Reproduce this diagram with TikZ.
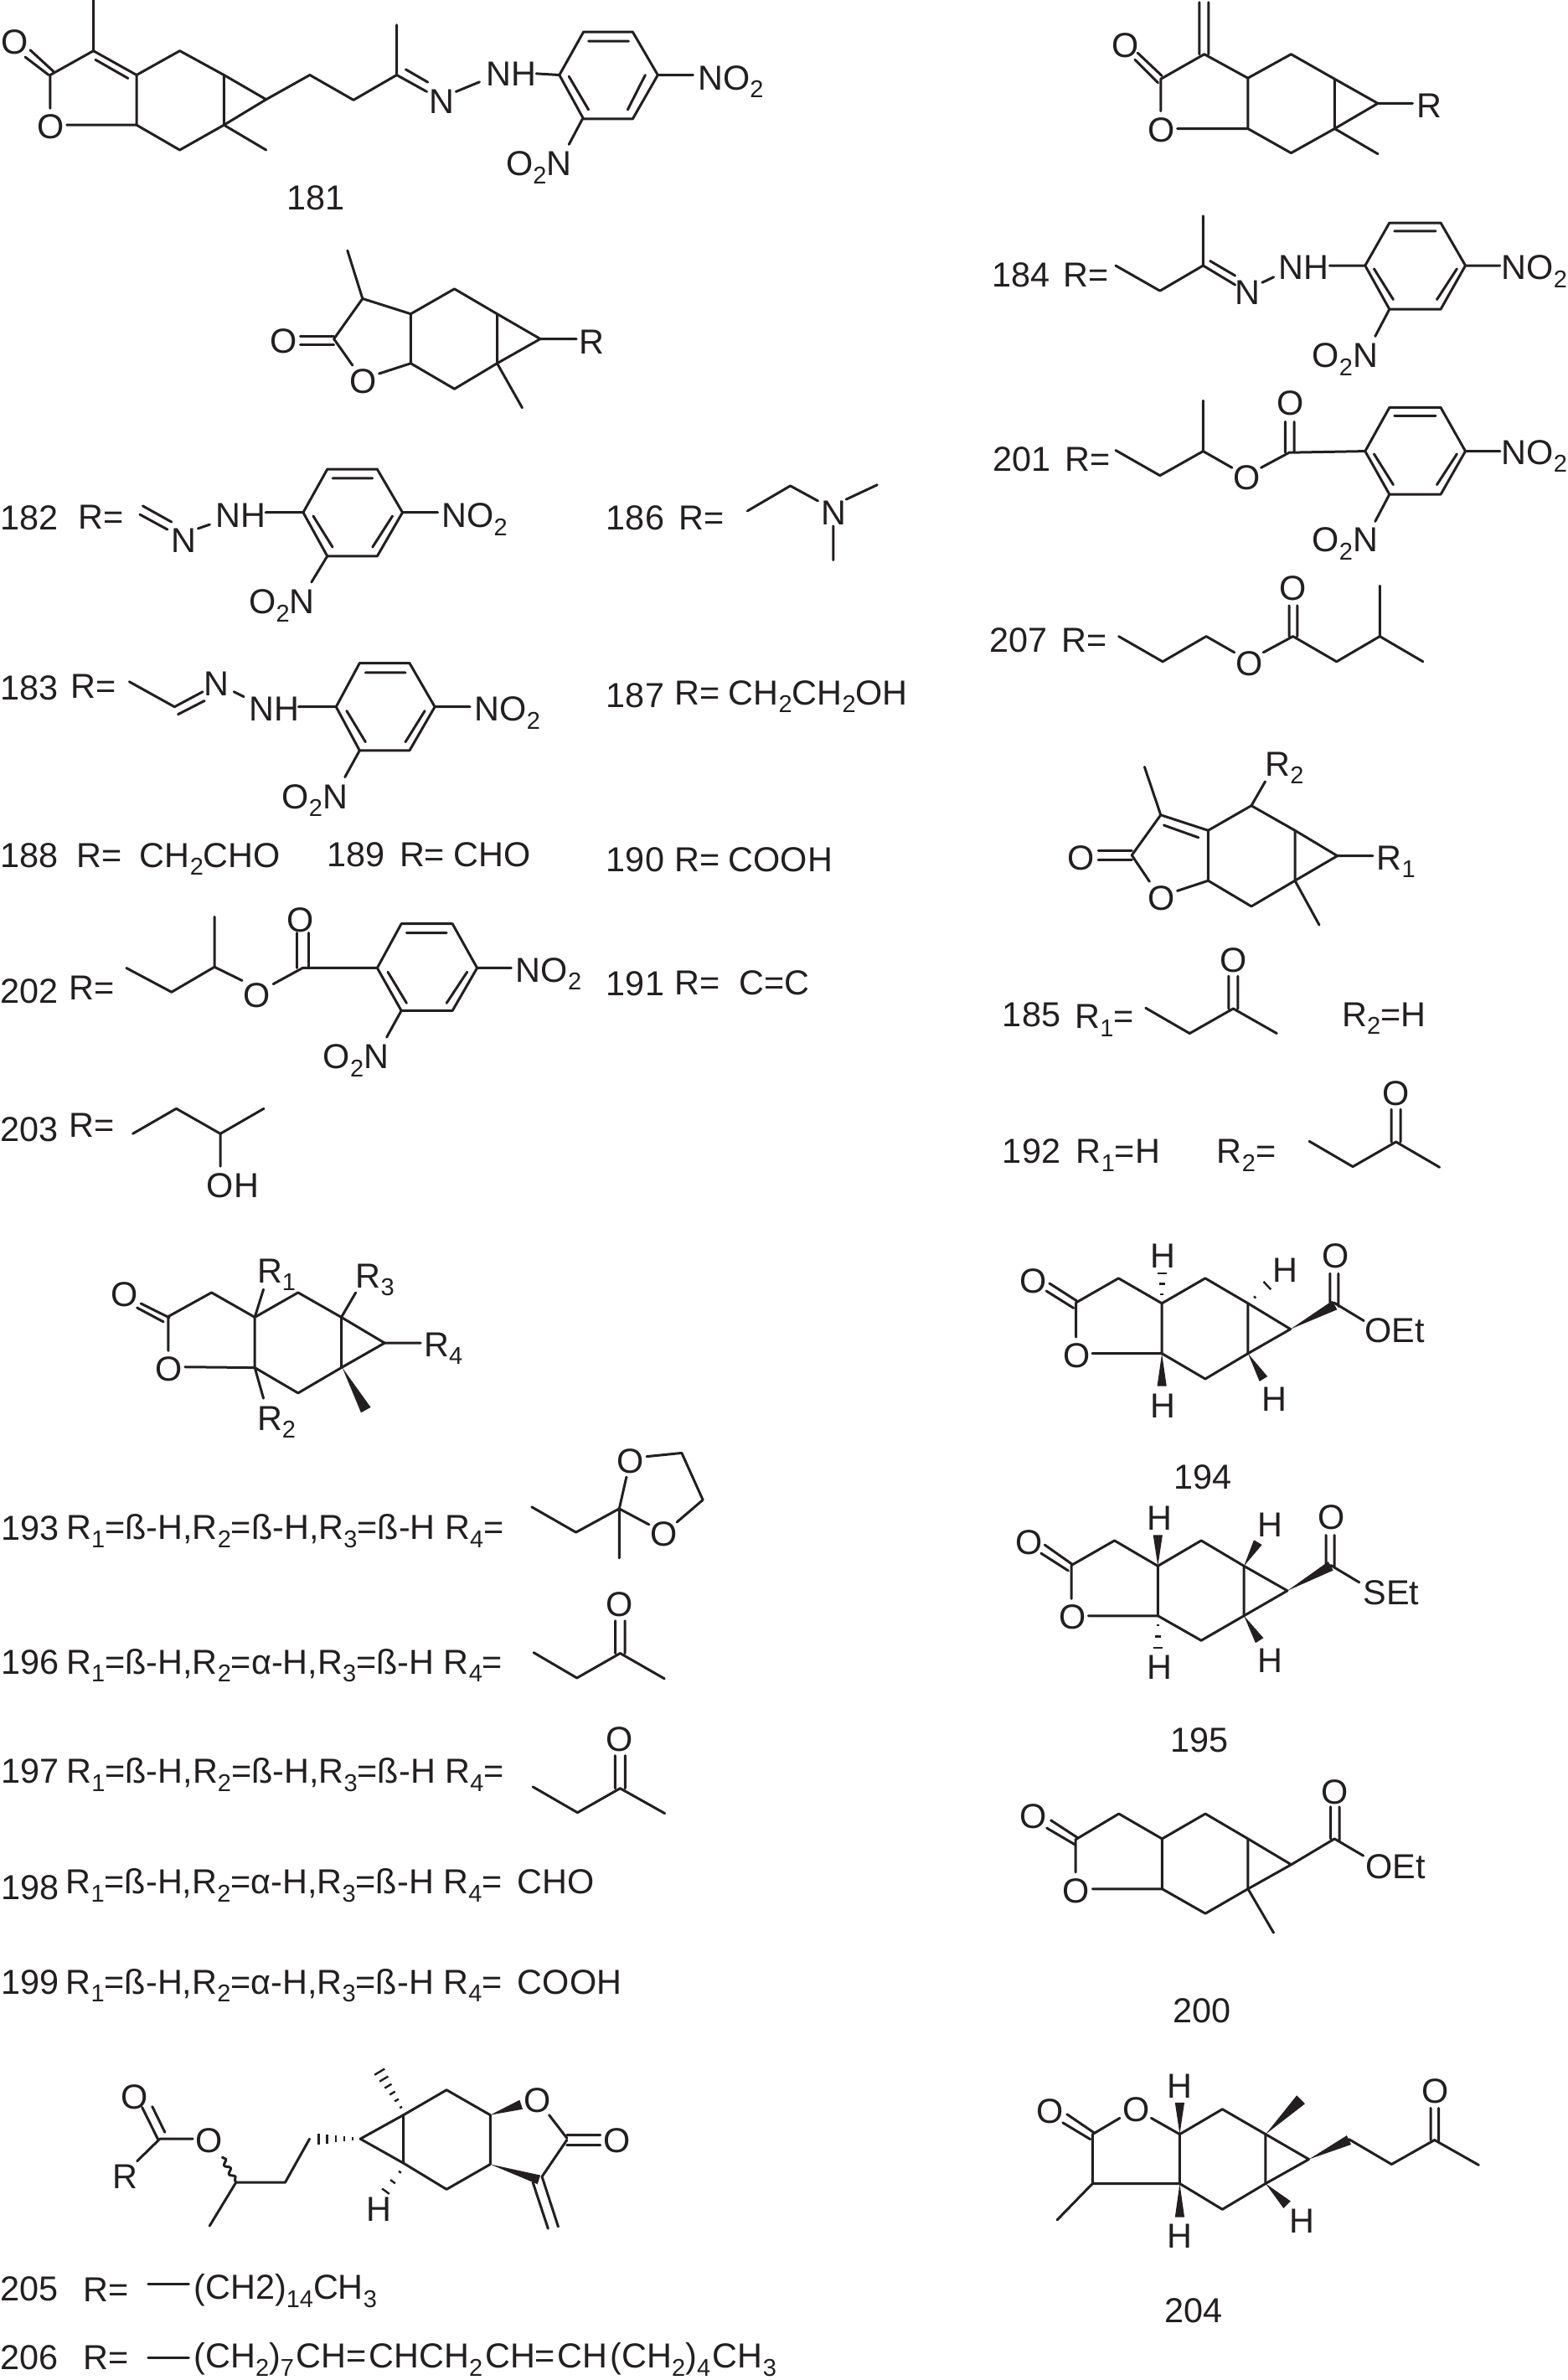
\documentclass[tikz,border=0pt]{standalone}
\usepackage{fontspec}
\setmainfont{Liberation Sans}
\usetikzlibrary{calc,decorations.pathmorphing}
\definecolor{ink}{HTML}{231F20}
\newcounter{tc}
\newcommand\sbs[1]{\raisebox{-0.23em}{\fontsize{14.5}{14.5}\selectfont #1}}
\newcommand\lab[3]{\stepcounter{tc}\node[lbl] (t\thetc) at (#1,#2) {#3};}
\newcommand\wdg[3]{\fill[ink] (#1) -- ($(#2)!#3!90:(#1)$) -- ($(#2)!#3!-90:(#1)$) -- cycle;}
\newcommand\hsh[3]{\coordinate (hz) at ($(#1)!2!(#2)$);\foreach \tq/\wq in {#3}{\draw[hb] ($(#1)!\tq!(#2)!\wq!90:(hz)$) -- ($(#1)!\tq!(#2)!\wq!-90:(hz)$);}}
\tikzset{
 zm/.style n args={4}{shift={(#1*0.5pt,-#2*0.5pt)},x={#3/3136*1pt},y={-#4/3136*1pt}},
 lbl/.style={anchor=base west,inner sep=0pt,outer sep=0pt,yshift=-0.8pt,text=ink,font=\fontsize{20.7}{24}\selectfont},
 b/.style={draw=ink,line width=1.5pt,line cap=round,line join=round},
 hb/.style={draw=ink,line width=1.2pt}
}
\begin{document}
\begin{tikzpicture}
\useasboundingbox (0pt,0pt) rectangle (936pt,-1420.5pt);
% ---------- zoom 1
\begin{scope}[zm={0}{0}{940}{520}]
\draw[b] (186,0)--(186,183)--(100,270)--(100,390);
\draw[b] (60,180)--(107,258) (50,205)--(97,270);
\draw[b] (133,450)--(272,450)--(272,270)--(186,183) (190,215)--(255,282);
\draw[b] (272,270)--(358,183)--(446,270)--(530,358)--(446,450)--(358,540)--(272,450);
\draw[b] (446,270)--(446,450)--(530,540);
\draw[b] (530,358)--(617,270)--(704,360)--(790,270)--(790,90);
\draw[b] (790,270)--(850,330) (808,250)--(852,296) (908,330)--(955,295) (1068,265)--(1114,270);
\draw[b] (1114,270)--(1162,115)--(1260,115)--(1310,270)--(1260,428)--(1162,428)--cycle;
\draw[b] (1172,148)--(1252,148) (1285,270)--(1250,395) (1133,275)--(1172,395);
\draw[b] (1310,270)--(1380,270) (1160,428)--(1133,520);
\lab{3}{190}{O}\lab{74}{495}{O}
\lab{855}{405}{N}\lab{968}{305}{NH}\lab{1390}{318}{NO\sbs{2}}\lab{1008}{628}{O\sbs{2}N}\lab{572}{750}{181}
\draw[b] (692,902)--(722,1075)--(818,1130) (722,1075)--(665,1220)--(702,1315);
\draw[b] (598,1212)--(665,1212) (598,1240)--(665,1240);
\draw[b] (755,1345)--(818,1308)--(818,1130)--(905,1040)--(990,1130)--(1076,1220)--(990,1308)--(905,1400)--(818,1308);
\draw[b] (990,1130)--(990,1308)--(1040,1468) (1076,1220)--(1148,1220);
\lab{538}{1265}{O}\lab{696}{1410}{O}\lab{1153}{1268}{R}
\end{scope}
% ---------- zoom 2
\begin{scope}[zm={0}{520}{1100}{940}]
\lab{1}{185}{182}\lab{133}{183}{R=}
\draw[b] (243,140)--(292,172) (238,157)--(285,187) (337,185)--(357,177) (452,153)--(516,153);
\draw[b] (516,153)--(557,67)--(642,67)--(685,153)--(642,240)--(557,240)--cycle;
\draw[b] (566,85)--(634,85) (533,160)--(566,222) (668,160)--(634,222) (685,153)--(745,153) (557,240)--(530,292);
\lab{292}{230}{N}\lab{367}{180}{NH}\lab{752}{180}{NO\sbs{2}}\lab{424}{352}{O\sbs{2}N}
\lab{1032}{185}{186}\lab{1155}{185}{R=}
\draw[b] (1272,150)--(1345,100)--(1392,130) (1440,127)--(1493,98) (1418,180)--(1418,248);
\lab{1397}{175}{N}
\lab{1}{523}{183}\lab{120}{520}{R=}
\draw[b] (220,490)--(297,540)--(345,510) (303,555)--(348,528) (398,510)--(415,520) (508,540)--(572,540);
\draw[b] (572,540)--(612,453)--(697,453)--(740,540)--(697,627)--(612,627)--cycle;
\draw[b] (622,472)--(690,472) (590,548)--(622,610) (723,548)--(690,610) (740,540)--(800,540) (612,627)--(587,680);
\lab{347}{515}{N}\lab{424}{566}{NH}\lab{808}{566}{NO\sbs{2}}\lab{480}{740}{O\sbs{2}N}
\lab{1032}{538}{187}\lab{1148}{533}{R=}\lab{1240}{533}{CH\sbs{2}CH\sbs{2}OH}
\lab{1}{857}{188}\lab{130}{857}{R=}\lab{238}{857}{CH\sbs{2}CHO}
\lab{557}{855}{189}\lab{680}{855}{R=}\lab{772}{855}{CHO}
\lab{1032}{865}{190}\lab{1148}{865}{R=}\lab{1240}{865}{COOH}
\lab{1}{1127}{202}\lab{118}{1120}{R=}
\draw[b] (215,1060)--(292,1108)--(365,1058)--(412,1085) (365,958)--(365,1058) (465,1092)--(515,1060)--(642,1060);
\draw[b] (505,990)--(505,1060) (525,990)--(525,1060);
\draw[b] (642,1060)--(683,972)--(770,972)--(812,1060)--(770,1145)--(683,1145)--cycle;
\draw[b] (692,990)--(760,990) (660,1068)--(692,1130) (795,1068)--(760,1130) (812,1060)--(870,1060) (683,1145)--(658,1198);
\lab{414}{1135}{O}\lab{488}{985}{O}\lab{878}{1085}{NO\sbs{2}}\lab{550}{1258}{O\sbs{2}N}
\lab{1032}{1113}{191}\lab{1148}{1110}{R=}\lab{1258}{1110}{C=C}
\lab{1}{1403}{203}\lab{118}{1395}{R=}
\draw[b] (226,1390)--(300,1340)--(375,1390)--(449,1340) (375,1390)--(375,1455);
\lab{352}{1515}{OH}
\end{scope}
% ---------- zoom 3
\begin{scope}[zm={0}{1460}{900}{660}]
\draw[b] (293,228)--(352,268) (285,240)--(340,280);
\draw[b] (350,265)--(440,197)--(530,267)--(620,197)--(710,267)--(800,340)--(710,410)--(620,482)--(530,410)--(530,267);
\draw[b] (710,267)--(710,410) (350,265)--(350,362) (385,408)--(530,410) (530,267)--(548,188) (710,267)--(740,197) (530,410)--(548,497) (800,340)--(875,340);
\wdg{712,410}{761,530}{3.3pt}
\lab{230}{232}{O}\lab{323}{445}{O}
\lab{535}{165}{R\sbs{1}}\lab{740}{180}{R\sbs{3}}\lab{535}{583}{R\sbs{2}}\lab{882}{375}{R\sbs{4}}
\lab{3}{895}{193}\lab{138}{893}{R\sbs{1}=ß-H,R\sbs{2}=ß-H,R\sbs{3}=ß-H R\sbs{4}=}
\draw[b] (1106,805)--(1198,877)--(1288,810)--(1350,855) (1288,810)--(1288,950) (1288,810)--(1303,720);
\draw[b] (1345,662)--(1418,652)--(1462,785)--(1408,848);
\lab{1283}{705}{O}\lab{1353}{913}{O}
\lab{3}{1275}{196}\lab{138}{1275}{R\sbs{1}=ß-H,R\sbs{2}=α-H,R\sbs{3}=ß-H R\sbs{4}=}
\draw[b] (1110,1218)--(1200,1290)--(1290,1220)--(1382,1292) (1280,1128)--(1280,1220) (1300,1128)--(1300,1220);
\lab{1261}{1112}{O}
\end{scope}
% ---------- zoom 4
\begin{scope}[zm={0}{2120}{950}{721}]
\lab{3}{15}{197}\lab{131}{15}{R\sbs{1}=ß-H,R\sbs{2}=ß-H,R\sbs{3}=ß-H R\sbs{4}=}
\draw[b] (1050,28)--(1138,95)--(1222,32)--(1310,97) (1212,-53)--(1212,32) (1232,-53)--(1232,32);
\lab{1194}{-67}{O}
\lab{3}{318}{198}\lab{130}{302}{R\sbs{1}=ß-H,R\sbs{2}=α-H,R\sbs{3}=ß-H R\sbs{4}=}\lab{1020}{302}{CHO}
\lab{3}{562}{199}\lab{130}{562}{R\sbs{1}=ß-H,R\sbs{2}=α-H,R\sbs{3}=ß-H R\sbs{4}=}\lab{1020}{562}{COOH}
\draw[b] (280,860)--(312,945) (300,858)--(325,925) (315,942)--(380,942) (315,942)--(270,1000);
\draw[b,decorate,decoration={snake,amplitude=1.4pt,segment length=6pt}] (438,990)--(465,1055);
\draw[b] (465,1055)--(413,1168) (465,1055)--(562,1055)--(610,942);
\hsh{695,942}{628,942}{0/0.9pt,0.25/1.5pt,0.5/2.1pt,0.75/2.7pt,1/3.3pt}
\draw[b] (710,942)--(795,880)--(795,1005)--cycle;
\draw[b] (795,880)--(880,815)--(966,880)--(966,1008)--(880,1073)--(795,1005);
\hsh{790,860}{748,768}{0/0.8pt,0.2/1.4pt,0.4/1.9pt,0.6/2.4pt,0.8/3pt,1/3.5pt}
\wdg{966,880}{1027,853}{2.9pt}
\draw[b] (1082,880)--(1117,940) (1117,932)--(1183,932) (1117,958)--(1183,958) (1117,945)--(1068,1040);
\wdg{966,1008}{1062,1048}{2.8pt}
\draw[b] (1050,1055)--(1080,1175) (1068,1040)--(1100,1170);
\hsh{788,1028}{760,1078}{0/0.9pt,0.5/1.8pt,1/2.7pt}
\lab{238}{862}{O}\lab{386}{975}{O}\lab{222}{1068}{R}\lab{1033}{870}{O}\lab{1190}{975}{O}\lab{722}{1153}{H}
\lab{1}{1360}{205}\lab{165}{1362}{R=}
\draw[b] (292,1320)--(372,1320);
\lab{382}{1355}{(CH2)\sbs{14}CH\sbs{3}}
\lab{1}{1538}{206}\lab{165}{1538}{R=}
\draw[b] (292,1510)--(372,1510);
\lab{382}{1534}{(CH\sbs{2})\sbs{7}\hspace{1.4pt}CH=\hspace{1.4pt}CHCH\sbs{2}\hspace{1.4pt}CH=\hspace{1.4pt}CH\hspace{1.4pt}(CH\sbs{2})\sbs{4}\hspace{1.4pt}CH\sbs{3}}
\end{scope}
% ---------- zoom 5
\begin{scope}[zm={1150}{0}{722}{860}]
\draw[b] (612,5)--(612,118) (636,5)--(636,118) (452,115)--(515,165) (445,130)--(505,180);
\draw[b] (512,242)--(512,172)--(625,118)--(738,170)--(850,118)--(963,172)--(1075,225)--(963,280)--(850,333)--(738,280)--(738,170);
\draw[b] (963,172)--(963,280)--(1075,335) (1075,225)--(1165,225) (555,280)--(738,280);
\lab{386}{122}{O}\lab{478}{307}{O}\lab{1175}{253}{R}
\lab{75}{622}{184}\lab{260}{622}{R=}
\draw[b] (395,578)--(510,633)--(622,578)--(622,470) (622,578)--(705,620) (640,568)--(705,600) (775,615)--(805,603) (950,578)--(1042,578);
\draw[b] (1042,578)--(1105,485)--(1238,485)--(1302,578)--(1238,673)--(1105,673)--cycle;
\draw[b] (1118,503)--(1225,503) (1065,585)--(1115,652) (1280,585)--(1228,652) (1302,578)--(1392,578) (1105,673)--(1068,732);
\lab{704}{660}{N}\lab{818}{606}{NH}\lab{1396}{606}{NO\sbs{2}}\lab{905}{797}{O\sbs{2}N}
\lab{78}{1023}{201}\lab{263}{1023}{R=}
\draw[b] (395,980)--(510,1035)--(622,982)--(697,1018) (622,982)--(622,872) (772,1018)--(845,985)--(1042,982) (835,918)--(835,985) (858,918)--(858,985);
\draw[b] (1042,982)--(1105,887)--(1238,887)--(1302,982)--(1238,1076)--(1105,1076)--cycle;
\draw[b] (1118,905)--(1225,905) (1065,988)--(1115,1055) (1280,988)--(1228,1055) (1302,982)--(1392,982) (1105,1076)--(1068,1135);
\lab{701}{1062}{O}\lab{813}{900}{O}\lab{1396}{1008}{NO\sbs{2}}\lab{905}{1198}{O\sbs{2}N}
\lab{68}{1417}{207}\lab{255}{1417}{R=}
\draw[b] (403,1385)--(517,1440)--(630,1385)--(703,1420) (778,1420)--(855,1385)--(968,1440)--(1080,1385)--(1192,1440) (1080,1385)--(1080,1275) (845,1318)--(845,1385) (866,1318)--(866,1385);
\lab{706}{1467}{O}\lab{820}{1303}{O}
\end{scope}
% ---------- zoom 6
\begin{scope}[zm={1150}{860}{722}{580}]
\draw[b] (350,420)--(437,420) (350,450)--(437,450) (470,150)--(512,305) (483,520)--(437,435)--(512,305)--(635,355) (520,338)--(610,378);
\draw[b] (635,355)--(747,275)--(860,355)--(970,437)--(860,517)--(747,600)--(635,517)--(635,355);
\draw[b] (860,355)--(860,517)--(923,660) (747,275)--(783,197) (970,437)--(1062,437) (555,550)--(635,517);
\lab{271}{478}{O}\lab{478}{608}{O}\lab{783}{175}{R\sbs{2}}\lab{1072}{478}{R\sbs{1}}
\lab{102}{985}{185}\lab{290}{990}{R\sbs{1}=}\lab{982}{983}{R\sbs{2}=H}
\draw[b] (473,928)--(587,1010)--(700,930)--(813,1010) (688,825)--(688,930) (712,825)--(712,930);
\lab{666}{808}{O}
\lab{102}{1425}{192}\lab{293}{1425}{R\sbs{1}=H}\lab{658}{1425}{R\sbs{2}=}
\draw[b] (897,1358)--(1010,1440)--(1122,1360)--(1235,1442) (1110,1255)--(1110,1360) (1134,1255)--(1134,1360);
\lab{1088}{1238}{O}
\end{scope}
% ---------- zoom 7
\begin{scope}[zm={1180}{1440}{580}{680}]
\draw[b] (197,212)--(285,260) (187,233)--(275,280);
\draw[b] (283,360)--(283,265)--(420,198)--(560,267)--(700,198)--(838,267)--(975,338)--(838,405)--(700,475)--(560,405)--(560,267);
\draw[b] (838,267)--(838,405) (335,405)--(560,405) (1115,265)--(1212,315) (1103,185)--(1103,265) (1130,185)--(1130,275);
\hsh{560,242}{560,185}{0/0.9pt,0.5/1.8pt,1/2.8pt}
\wdg{560,405}{560,495}{2.8pt}
\hsh{860,250}{900,218}{0/0.8pt,1/3.2pt}
\wdg{838,405}{888,475}{2.8pt}
\wdg{975,338}{1118,272}{3pt}
\lab{101}{235}{O}\lab{241}{440}{O}\lab{524}{165}{H}\lab{524}{578}{H}\lab{917}{205}{H}\lab{884}{560}{H}\lab{1076}{165}{O}\lab{1216}{372}{OEt}\lab{600}{775}{194}
\draw[b] (182,932)--(270,985) (170,955)--(258,1003);
\draw[b] (268,1080)--(268,988)--(407,920)--(547,990)--(687,920)--(825,990)--(965,1058)--(825,1127)--(687,1195)--(547,1127)--(547,990);
\draw[b] (825,990)--(825,1127) (323,1127)--(547,1127) (1105,988)--(1197,1035) (1090,905)--(1090,988) (1117,905)--(1117,995);
\wdg{547,990}{547,905}{2.8pt}
\wdg{825,990}{870,925}{2.8pt}
\wdg{825,1127}{875,1195}{2.8pt}
\hsh{547,1153}{547,1215}{0/0.9pt,0.5/1.8pt,1/2.8pt}
\wdg{965,1058}{1105,990}{3pt}
\lab{88}{955}{O}\lab{228}{1160}{O}\lab{511}{888}{H}\lab{869}{905}{H}\lab{869}{1280}{H}\lab{511}{1298}{H}\lab{1063}{885}{O}\lab{1210}{1092}{SEt}\lab{587}{1498}{195}
\end{scope}
% ---------- zoom 8
\begin{scope}[zm={1180}{2120}{600}{721}]
\draw[b] (195,115)--(278,160) (182,135)--(270,178);
\draw[b] (272,250)--(272,165)--(407,98)--(542,163)--(677,98)--(810,163)--(945,230)--(810,293)--(677,357)--(542,293)--(542,163);
\draw[b] (810,163)--(810,293)--(890,407) (325,293)--(542,293) (945,230)--(1080,163)--(1170,207) (1068,80)--(1068,163) (1095,80)--(1095,170);
\lab{98}{132}{O}\lab{232}{325}{O}\lab{1040}{70}{O}\lab{1178}{262}{OEt}\lab{575}{638}{200}
\draw[b] (245,878)--(328,925) (232,900)--(318,943) (325,930)--(410,888);
\draw[b] (508,888)--(597,930)--(730,865)--(865,930)--(1000,995)--(865,1058)--(730,1125)--(597,1058)--(597,930);
\draw[b] (865,930)--(865,1058) (325,930)--(325,1058)--(597,1058) (325,1058)--(215,1152);
\wdg{597,930}{597,848}{2.8pt}
\wdg{597,1058}{597,1145}{2.8pt}
\wdg{865,930}{975,840}{3.5pt}
\wdg{865,1058}{932,1113}{3pt}
\wdg{1000,995}{1125,945}{3pt}
\draw[b] (1125,943)--(1258,1008)--(1392,945)--(1530,1010) (1380,862)--(1380,945) (1405,862)--(1405,952);
\lab{151}{897}{O}\lab{420}{893}{O}\lab{559}{833}{H}\lab{559}{1222}{H}\lab{939}{1183}{H}\lab{1353}{845}{O}\lab{549}{1415}{204}
\end{scope}
\end{tikzpicture}
\end{document}
